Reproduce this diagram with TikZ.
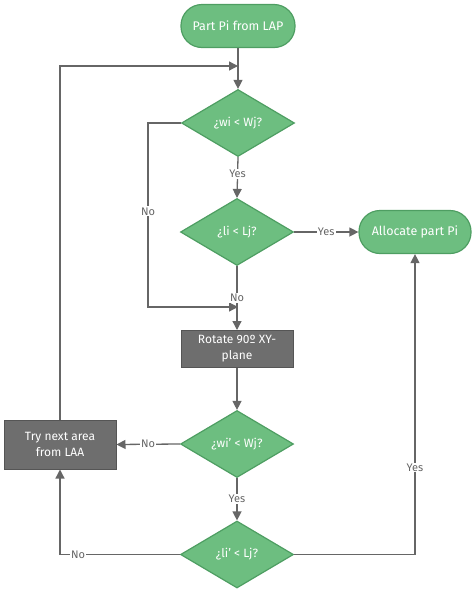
\documentclass[tikz,border=0pt]{standalone}
\usepackage{fontspec}
\setmainfont{Fira Sans}
\usetikzlibrary{shapes.geometric,arrows.meta,positioning}
\definecolor{gfill}{HTML}{6DBE80}
\definecolor{gdraw}{HTML}{4E9E62}
\definecolor{dfill}{HTML}{6E6E6E}
\definecolor{ddraw}{HTML}{555555}
\definecolor{lcol}{HTML}{666666}
\tikzset{
  term/.style={draw=gdraw, fill=gfill, line width=1.2pt, rounded corners=21pt, minimum width=114pt, minimum height=43pt, text=white, font=\fontsize{12.5}{14}\selectfont, inner sep=0pt},
  dec/.style={diamond, draw=gdraw, fill=gfill, line width=1.2pt, minimum width=113pt, minimum height=67pt, inner sep=0pt, text=white, font=\fontsize{12}{14}\selectfont},
  proc/.style={draw=ddraw, fill=dfill, line width=1pt, minimum width=112pt, minimum height=37pt, text=white, align=center, font=\fontsize{12}{16}\selectfont, inner sep=0pt},
  conn/.style={draw=lcol, line width=1.3pt, -{Triangle[length=9pt,width=9pt]}},
  lab/.style={fill=white, text=lcol, font=\fontsize{11}{13}\selectfont, inner sep=1pt}
}
\begin{document}
\begin{tikzpicture}[x=1pt,y=-1pt]
\useasboundingbox (0,0) rectangle (474,592);
\node[term] (start) at (238,26) {Part Pi from LAP};
\node[dec] (d1) at (238,123) {¿wi < Wj?};
\node[dec] (d2) at (237,232) {¿li < Lj?};
\node[term, minimum width=112pt] (alloc) at (415,232) {Allocate part Pi};
\node[proc] (rot) at (237,349) {Rotate 90º XY-\\plane};
\node[dec] (d3) at (237,444) {¿wi' < Wj?};
\node[proc, minimum height=49pt] (try) at (60,444.5) {Try next area\\from LAA};
\node[dec] (d4) at (237,554.5) {¿li' < Lj?};
\coordinate (j1) at (238,66);
\coordinate (k1) at (148,123);
\coordinate (j2) at (238,307);
\draw[conn] (start) -- (d1);
\draw[conn] (try.north) |- (j1);
\draw[conn] (d1.west) -- (k1) |- node[lab, pos=0.24] {No} (j2);
\draw[conn] (d1.south) -- node[lab, pos=0.42] {Yes} (d2.north);
\draw[conn] (d2.east) -- node[lab] {Yes} (alloc.west);
\draw[conn] (d2.south) -- node[lab, pos=0.5] {No} (rot.north);
\draw[conn] (rot.south) -- (d3.north);
\draw[conn] (d3.west) -- node[lab] {No} (try.east);
\draw[conn] (d3.south) -- node[lab] {Yes} (d4.north);
\draw[conn] (d4.west) -| node[lab, pos=0.425] {No} (try.south);
\draw[conn] (d4.east) -| node[lab, pos=0.645] {Yes} (alloc.south);
\end{tikzpicture}
\end{document}
